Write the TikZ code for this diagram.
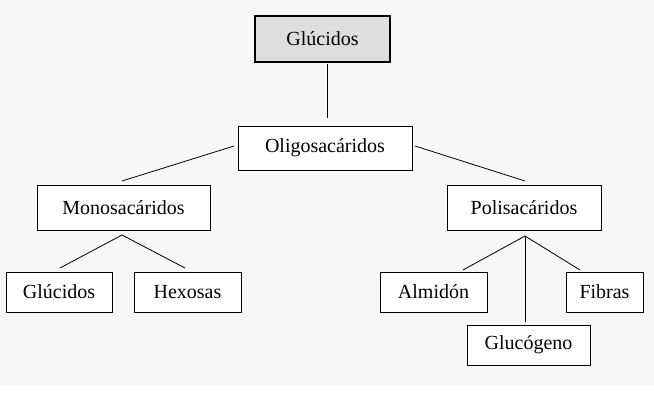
\documentclass[tikz,border=0pt]{standalone}
\usepackage{fontspec}
\setmainfont{Liberation Serif}
\begin{document}
\begin{tikzpicture}[x=1pt,y=-1pt,
  box/.style={draw,line width=0.8pt,fill=white,inner sep=0pt,font=\fontsize{20}{24}\selectfont},
  conn/.style={line width=0.8pt}]
\useasboundingbox (0,0) rectangle (654,415);
\fill[white] (0,0) rectangle (654,415);
\fill[black!3] (0,0) rectangle (654,385);
\node[box,fill=black!13,line width=1.5pt,minimum width=135,minimum height=46] (g) at (322.5,39) {Glúcidos};
\node[box,minimum width=174,minimum height=44] (o) at (325,148) {Oligosacáridos};
\node[box,minimum width=173,minimum height=45] (m) at (123.5,207.5) {Monosacáridos};
\node[box,minimum width=154,minimum height=45] (p) at (524,207.5) {Polisacáridos};
\node[box,minimum width=106,minimum height=40] (g2) at (59,292) {Glúcidos};
\node[box,minimum width=107,minimum height=40] (h) at (187.5,292) {Hexosas};
\node[box,minimum width=107,minimum height=40] (a) at (433.5,292) {Almidón};
\node[box,minimum width=77,minimum height=40] (f) at (604.5,292) {Fibras};
\node[box,minimum width=123,minimum height=40] (gl) at (528.5,345) {Glucógeno};
\coordinate (g1) at (327,64); \coordinate (o1) at (327,118);
\coordinate (ol) at (234,146); \coordinate (mt) at (122,181);
\coordinate (or) at (415,146); \coordinate (pt) at (525,181);
\coordinate (mb) at (122,235); \coordinate (g2t) at (60,268); \coordinate (ht) at (185,268);
\coordinate (pb) at (525,236); \coordinate (at) at (463,270); \coordinate (glt) at (525,322); \coordinate (ft) at (580,270);
\draw[conn] (g1)--(o1); \draw[conn] (ol)--(mt); \draw[conn] (or)--(pt);
\draw[conn] (mb)--(g2t); \draw[conn] (mb)--(ht);
\draw[conn] (pb)--(at); \draw[conn] (pb)--(glt); \draw[conn] (pb)--(ft);
\end{tikzpicture}
\end{document}
